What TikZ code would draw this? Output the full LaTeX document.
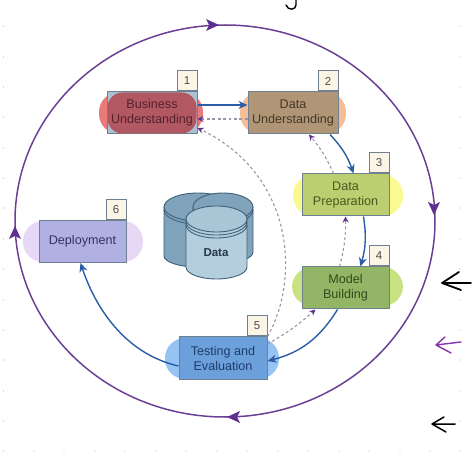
\documentclass[tikz,border=0pt]{standalone}
\usepackage{fontspec}
\setmainfont{Liberation Sans}
\usetikzlibrary{arrows.meta,calc}
\definecolor{flowblue}{HTML}{2A5CA8}
\definecolor{loop}{HTML}{6A4096}
\definecolor{tipcol}{HTML}{5E2F8E}
\definecolor{dashcol}{HTML}{9A93A6}
\definecolor{framecol}{HTML}{6F8090}
\definecolor{tagfill}{HTML}{FBF5E6}
\definecolor{cyl}{HTML}{7FA3BB}
\definecolor{cyltop}{HTML}{A9C6D6}
\definecolor{cylfront}{HTML}{B4CEDD}
\definecolor{cyledge}{HTML}{3F6078}
\tikzset{
  box/.style={draw=framecol,line width=1pt,minimum width=#1,minimum height=42pt,inner sep=0pt,align=center,font=\fontsize{12.6}{15}\selectfont},
  tag/.style={draw=framecol,fill=tagfill,line width=1pt,minimum width=20pt,minimum height=20pt,inner sep=0pt,font=\fontsize{11.5}{13}\selectfont,text=black!70,anchor=south east},
  flow/.style={draw=flowblue,line width=1.4pt,-{Stealth[length=9pt,width=8pt]}},
  back/.style={draw=dashcol,line width=1.1pt,dash pattern=on 2.8pt off 2.6pt,-{Stealth[length=6pt,width=6pt,color=tipcol]}},
  pill/.style={rounded corners=#1,draw=none},
  ring/.style={draw=loop,line width=1.5pt},
  ringtip/.style={fill=tipcol,draw=none},
  griddot/.style={circle,fill=black!28,inner sep=0pt,minimum size=1.3pt},
  cylside/.style={draw=cyledge,line width=.9pt},
  hand/.style={line width=1.8pt,line cap=round,line join=round}
}
\begin{document}
\begin{tikzpicture}[x=1pt,y=-1pt]
\useasboundingbox (0,0) rectangle (474,462);
% grid dots
\foreach \yy in {26,57,87,117,148,178,208,239,269,300,330,360,391,421,451}{
  \node[griddot] at (3.5,\yy) {};
  \node[griddot] at (460,\yy) {};
}
\foreach \xx in {34,64,95,125,156,186,217,247,278,308,339,369,400,430}{
  \node[griddot] at (\xx,451) {};
}
% outer ring
\draw[ring] (225,221) ellipse [x radius=210,y radius=196];
\coordinate (rt) at (212,25);
\coordinate (rr) at (434,208);
\coordinate (rb) at (234,417);
\coordinate (rl) at (15,233);
\fill[ringtip] ($(rt)+(7,0)$) -- ($(rt)+(-6,-6)$) -- ($(rt)+(-3,0)$) -- ($(rt)+(-6,6)$) -- cycle;
\fill[ringtip] ($(rr)+(0,7)$) -- ($(rr)+(-6,-6)$) -- ($(rr)+(0,-3)$) -- ($(rr)+(6,-6)$) -- cycle;
\fill[ringtip] ($(rb)+(-7,0)$) -- ($(rb)+(6,-6)$) -- ($(rb)+(3,0)$) -- ($(rb)+(6,6)$) -- cycle;
\fill[ringtip] ($(rl)+(0,-7)$) -- ($(rl)+(-6,6)$) -- ($(rl)+(0,3)$) -- ($(rl)+(6,6)$) -- cycle;
% pills behind boxes
\fill[pill=20pt,fill={rgb,255:red,232;green,122;blue,122}] (99,92) rectangle (203,134);
\fill[pill=20pt,fill={rgb,255:red,245;green,190;blue,150}] (240,92) rectangle (346,134);
\fill[pill=20pt,fill={rgb,255:red,250;green,250;blue,145}] (293,175) rectangle (403,216);
\fill[pill=20pt,fill={rgb,255:red,200;green,226;blue,130}] (292,267) rectangle (403,306);
\fill[pill=20pt,fill={rgb,255:red,150;green,196;blue,242}] (165,338) rectangle (279,379);
\fill[pill=20pt,fill={rgb,255:red,231;green,216;blue,246}] (23,221) rectangle (143,262);
% boxes
\node[box=90pt,fill={rgb,255:red,172;green,192;blue,212}] (b1) at (152,113) {};
\fill[pill=15pt,fill={rgb,255:red,178;green,88;blue,98}] (107.5,92.5) rectangle (196.5,133.5);
\node[box=90pt,draw=none,text={rgb,255:red,85;green,35;blue,45}] (b1t) at (152,113) {Business\\Understanding};
\node[box=90pt,fill={rgb,255:red,176;green,150;blue,118},text={rgb,255:red,70;green,55;blue,40}] (b2) at (293,113) {Data\\Understanding};
\node[box=87pt,fill={rgb,255:red,188;green,206;blue,112},text={rgb,255:red,70;green,90;blue,30}] (b3) at (345.5,195) {Data\\Preparation};
\node[box=87pt,fill={rgb,255:red,146;green,182;blue,102},text={rgb,255:red,50;green,75;blue,25}] (b4) at (345.5,288) {Model\\Building};
\node[box=88pt,fill={rgb,255:red,108;green,160;blue,218},text={rgb,255:red,30;green,60;blue,110}] (b5) at (223,358) {Testing and\\Evaluation};
\node[box=87pt,fill={rgb,255:red,176;green,176;blue,226},text={rgb,255:red,50;green,50;blue,100}] (b6) at (82.5,241.5) {Deployment};
% number tags
\node[tag] (t1) at (b1.north east) {1};
\node[tag] (t2) at (b2.north east) {2};
\node[tag] (t3) at (b3.north east) {3};
\node[tag] (t4) at (b4.north east) {4};
\node[tag] (t5) at (b5.north east) {5};
\node[tag] (t6) at (b6.north east) {6};
% flow
\draw[flow] ([yshift=8pt]b1.east) -- ([yshift=8pt]b2.west);
\draw[flow] ([xshift=37pt]b2.south) to[bend left=12] ([xshift=8pt]b3.north);
\draw[flow] ([xshift=18pt]b3.south) to[bend left=12] ([xshift=15pt]b4.north);
\draw[flow] ([xshift=-8pt]b4.south) to[bend left=22] ([yshift=-3pt]b5.east);
\draw[flow] ([yshift=-8pt]b5.west) .. controls (130,355) and (98,315) .. ([xshift=-2pt]b6.south);
% dashed returns
\draw[back] ([yshift=-6pt]b2.west) -- ([yshift=-6pt]b1.east);
\draw[back] ([xshift=-12pt]b3.north) to[bend right=8] ([xshift=16pt]b2.south);
\draw[back] ([xshift=-6pt]b4.north) to[bend right=8] ([xshift=0pt]b3.south);
\draw[back] ([yshift=14pt]b5.east) to[bend right=6] ([xshift=-30pt]b4.south);
\draw[back] (b5.north east) .. controls (300,280) and (295,175) .. ([yshift=-15pt]b1.east);
% database
\foreach \cx/\cy/\rx/\bot in {198/207/34/256, 223/207/30/252}{
  \filldraw[cyl,cylside] (\cx-\rx,\cy) -- (\cx-\rx,\bot) arc[start angle=180,end angle=0,x radius=\rx,y radius=11] -- (\cx+\rx,\cy) -- cycle;
  \draw[cylside] (\cx-\rx,\cy+3) arc[start angle=180,end angle=0,x radius=\rx,y radius=14];
  \filldraw[cyl,cylside] (\cx,\cy) ellipse [x radius=\rx,y radius=14];
}
\filldraw[cylfront,cylside] (186,219) -- (186,267) arc[start angle=180,end angle=0,x radius=30.5,y radius=12] -- (247,219) -- cycle;
\draw[cylside] (186,222) arc[start angle=180,end angle=0,x radius=30.5,y radius=13];
\draw[cylside] (186,225) arc[start angle=180,end angle=0,x radius=30.5,y radius=13];
\filldraw[cyltop,cylside] (216.5,219) ellipse [x radius=30.5,y radius=13];
\node[font=\bfseries\fontsize{11.5}{13}\selectfont,text={rgb,255:red,40;green,55;blue,75}] (dbl) at (216,253) {Data};
% pen marks
\draw[hand,black] (471,283) -- (442,283) (459,272) -- (442,283) -- (461,290);
\draw[hand,loop!80!magenta,line width=1.4pt] (461,342) -- (436,345) (445,337) -- (436,345) -- (451,353);
\draw[hand,black,line width=1.5pt] (455,424) -- (432,424) (444,417) -- (432,424) -- (446,432);
\draw[hand,black,line width=1.4pt] (296,0) -- (296,5) .. controls (296,10) and (288,11) .. (286,5);
\end{tikzpicture}
\end{document}
